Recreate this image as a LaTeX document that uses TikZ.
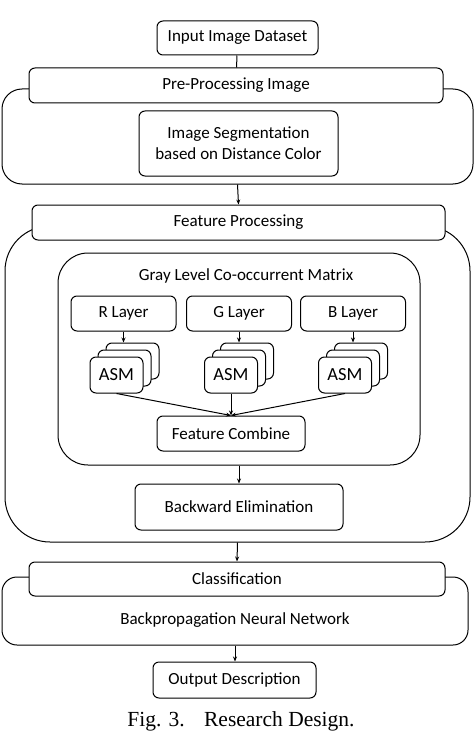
\documentclass[tikz,border=0pt]{standalone}
\usepackage{fontspec}
\setmainfont{Carlito}
\newfontfamily\capfont{Liberation Serif}
\usetikzlibrary{positioning,arrows.meta}

\begin{document}
\begin{tikzpicture}[x=1pt, y=-1pt, line width=1pt, font=\fontsize{17}{21}\selectfont,
		box/.style = {draw, rounded corners=6pt, fill=white, inner sep=0pt, align=center},
		asm/.style = {box, minimum width=53pt, minimum height=36pt, font=\fontsize{18.5}{21}\selectfont},
		layer/.style = {box, minimum width=105pt, minimum height=35pt},
		arr/.style = {-{Stealth[length=5pt, width=4pt]}}]
	\useasboundingbox (0,0) rectangle (474,733);
	% pre-processing
	\node[box, minimum width=161pt, minimum height=34pt] (input) at (237.5,38) {Input Image Dataset};
	\node[draw, rounded corners=20pt, minimum width=471pt, minimum height=95pt] (prebox) at (237.5,136.5) {};
	\node[box, minimum width=414pt, minimum height=35pt] (pre) at (236,85.5) {Pre-Processing Image};
	\node[box, minimum width=199pt, minimum height=65pt] (seg) at (238.5,143.5) {Image Segmentation\\based on Distance Color};
	% feature processing
	\node[draw, rounded corners=45pt, minimum width=465pt, minimum height=316pt] (featbox) at (237.5,384) {};
	\node[box, minimum width=413pt, minimum height=35pt] (feat) at (238.5,222.5) {Feature Processing};
	\node[draw, rounded corners=30pt, minimum width=362pt, minimum height=212pt] (glcm) at (239,359) {};
	\node (glcmtitle) at (246,276) {Gray Level Co-occurrent Matrix};
	\node[layer] (rl) at (123.5,313.5) {R Layer};
	\node[layer] (gl) at (239,313.5) {G Layer};
	\node[layer] (bl) at (353,313.5) {B Layer};
	% ASM stacks
	\node[asm] (asmR3) at (132.5,361) {};
	\node[asm] (asmR2) at (124.5,368) {};
	\node[asm] (asmR1) at (116.5,375) {ASM};
	\node[asm] (asmG3) at (247,361) {};
	\node[asm] (asmG2) at (239,368) {};
	\node[asm] (asmG1) at (231,375) {ASM};
	\node[asm] (asmB3) at (361,361) {};
	\node[asm] (asmB2) at (353,368) {};
	\node[asm] (asmB1) at (345,375) {ASM};
	\node[box, minimum width=148pt, minimum height=35pt] (comb) at (231,433.5) {Feature Combine};
	\node[box, minimum width=208pt, minimum height=46pt] (back) at (239,507) {Backward Elimination};
	% classification
	\node[draw, rounded corners=15pt, minimum width=466pt, minimum height=68pt] (clsbox) at (235,611) {};
	\node[box, minimum width=416pt, minimum height=34pt] (cls) at (237,579) {Classification};
	\node (bpnn) at (235,620) {Backpropagation Neural Network};
	\node[box, minimum width=163pt, minimum height=36pt] (out) at (234.5,680) {Output Description};
	\node[font=\capfont\fontsize{21.5}{24}\selectfont] (cap) at (241,721) {Fig. 3.\hspace{0.9em}Research Design.};
	% connectors
	\draw (input) -- (pre);
	\draw[arr] (prebox.south) -- (feat.north);
	\draw[arr] (rl.south) -- (rl.south |- asmR3.north);
	\draw[arr] (gl.south) -- (gl.south |- asmG3.north);
	\draw[arr] (bl.south) -- (bl.south |- asmB3.north);
	\draw[arr] (asmR1.south) -- (comb.north);
	\draw[arr] (asmG1.south) -- (comb.north);
	\draw[arr] (asmB1.south) -- (comb.north);
	\draw[arr] (glcm.south) -- (back.north);
	\draw[arr] (featbox.south) -- (cls.north);
	\draw[arr] (clsbox.south) -- (clsbox.south |- out.north);
\end{tikzpicture}
\end{document}
